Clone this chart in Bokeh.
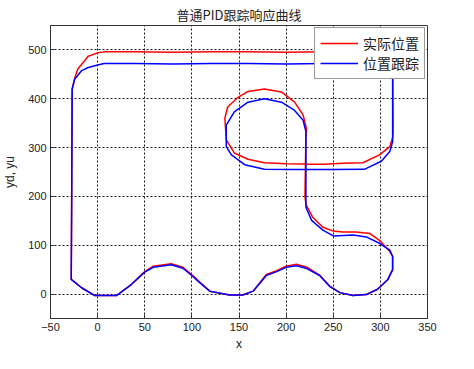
from bokeh.plotting import figure
from bokeh.models import FixedTicker, Range1d, Legend
from bokeh.embed import file_html
from bokeh.resources import INLINE

# ---- data ----
x_ticks = [-50, 0, 50, 100, 150, 200, 250, 300, 350]
y_ticks = [0, 100, 200, 300, 400, 500]

red_x = [7, 40, 80, 120, 160, 200, 240, 280, 300, 310, 313, 313.5, 313, 310, 299, 281.5,
         260, 240, 200, 177, 159.5, 145, 136.5, 135, 138, 149, 159.5, 177, 195, 209, 218,
         221.5, 221, 220, 221, 228, 239, 250, 260, 274, 289, 299, 310, 313, 313, 308, 297,
         285, 271, 257, 246, 235.5, 222, 211, 200, 190, 179, 165, 154, 140, 119, 108, 101,
         90.5, 78, 59, 50, 36, 20, -3, -17, -28, -27.5, -27, -24, -21, -10, 0, 7]
red_y = [496, 496, 495, 496, 496, 495, 496, 496, 495, 488, 475, 330, 320, 302, 285, 269,
         268, 266, 267, 269, 276, 289, 316, 360, 383, 403, 415, 420, 414, 393, 367,
         339, 325, 200, 184, 158, 137, 129, 127, 127, 124, 110, 87, 77, 50, 30, 10,
         -1, -3, 3, 17, 39, 55, 61, 57, 48, 40, 6, -2, -2, 6, 25, 38,
         55, 62, 57, 46, 20, -3, -3, 13, 30, 200, 420, 444, 461, 487, 494, 496]

blue_x = [7, 40, 80, 120, 160, 200, 240, 280, 300, 310, 313, 313, 310, 301, 283, 250,
          210, 177, 156, 142, 136.5, 136.5, 145, 159.5, 177, 195, 209, 218, 221, 221, 221,
          227, 239, 250, 271, 285, 299, 310, 313, 313, 308, 297, 285, 271, 257, 246, 235.5,
          221, 211, 200, 190, 179, 165, 154, 140, 119, 108, 101, 90.5, 78, 59, 50, 36, 20,
          -3, -17, -28, -27.5, -27, -24.4, -17.3, -10, 0, 7]
blue_y = [472, 472, 471, 472, 472, 471, 472, 472, 472, 468, 455, 312, 292, 272, 255.5, 255,
          255, 255.5, 265, 285, 302, 346, 373, 393, 400, 393, 376, 356, 333, 239, 178,
          151, 131, 119, 121, 117, 104, 90, 77, 50, 30, 10, -1, -3, 3, 16, 38,
          53, 58, 55, 46, 38, 6, -2, -2, 6, 24, 36, 53, 60, 55, 45, 20, -3,
          -3, 13, 30, 200, 420, 440, 457, 464, 469, 472]

title_text = "普通PID跟踪响应曲线"
legend_labels = ["实际位置", "位置跟踪"]
x_label = "x"
y_label = "yd, yu"

# ---- figure ----
p = figure(width=458, height=353, output_backend="svg", toolbar_location=None,
           x_range=Range1d(-50, 350), y_range=Range1d(-50, 550),
           min_border_left=43, min_border_right=31, min_border_top=22, min_border_bottom=31,
           background_fill_color="white", border_fill_color="white")

p.title.text = title_text
p.title.align = "center"
p.title.text_font = "Noto Sans CJK SC"
p.title.text_font_size = "13px"
p.title.text_font_style = "normal"
p.title.text_color = "#222222"
p.title.standoff = 4

p.outline_line_color = "#333333"
p.outline_line_width = 1
p.outline_line_alpha = 1

for ax in (p.xaxis[0], p.yaxis[0]):
    ax.axis_line_color = "#333333"
    ax.major_tick_in = 4
    ax.major_tick_out = 0
    ax.minor_tick_line_color = None
    ax.major_tick_line_color = "#333333"
    ax.major_label_text_font = "Liberation Sans"
    ax.major_label_text_font_size = "11px"
    ax.major_label_text_color = "#222222"
    ax.axis_label_text_font = "Liberation Sans"
    ax.axis_label_text_font_size = "12px"
    ax.axis_label_text_font_style = "normal"
    ax.axis_label_text_color = "#222222"

p.xaxis.ticker = FixedTicker(ticks=x_ticks)
p.yaxis.ticker = FixedTicker(ticks=y_ticks)
p.xaxis.axis_label = x_label
p.yaxis.axis_label = y_label
p.xaxis.major_label_standoff = 4
p.yaxis.major_label_standoff = 4
p.xaxis.axis_label_standoff = 3
p.yaxis.axis_label_standoff = 8

p.xgrid.ticker = FixedTicker(ticks=x_ticks)
p.ygrid.ticker = FixedTicker(ticks=y_ticks)
for g in (p.xgrid[0], p.ygrid[0]):
    g.grid_line_color = "black"
    g.grid_line_dash = "2 2"
    g.grid_line_width = 1
    g.grid_line_alpha = 0.9

r_red = p.line(red_x, red_y, line_color="#ff0000", line_width=1.5)
r_blue = p.line(blue_x, blue_y, line_color="#0000ff", line_width=1.5)

legend = Legend(items=[(legend_labels[0], [r_red]), (legend_labels[1], [r_blue])],
                location="top_right")
legend.label_text_font = "Noto Sans CJK SC"
legend.label_text_font_size = "14px"
legend.label_text_color = "#222222"
legend.border_line_color = "#333333"
legend.border_line_width = 1
legend.background_fill_alpha = 1
legend.padding = 5
legend.spacing = 0
legend.margin = 2
legend.glyph_width = 38
legend.glyph_height = 16
legend.label_height = 16
legend.label_standoff = 5
p.add_layout(legend)

open("out.html", "w").write(file_html(p, INLINE))
